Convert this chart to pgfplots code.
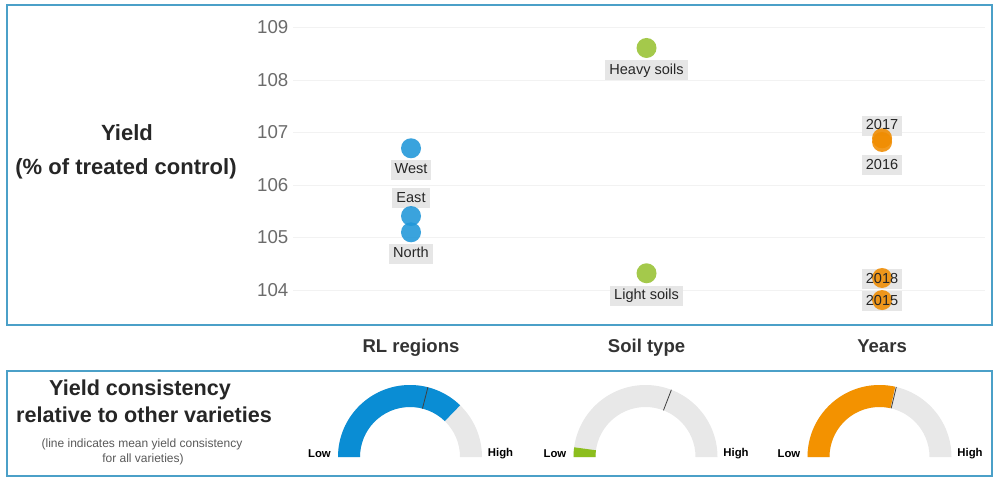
\documentclass[border=0pt]{standalone}
\usepackage{fontspec}
\setmainfont{Liberation Sans}
\usepackage{pgfplots}
\pgfplotsset{compat=1.18}
\usepackage{pgfplotstable}

\definecolor{frame}{HTML}{4BA0C8}
\definecolor{pblue}{HTML}{1F96D8}
\definecolor{pgreen}{HTML}{97C232}
\definecolor{porange}{HTML}{F08C00}
\definecolor{gblue}{HTML}{0A8DD4}
\definecolor{ggreen}{HTML}{8CBE1E}
\definecolor{gorange}{HTML}{F39200}
\definecolor{ggrey}{HTML}{E8E8E8}
\definecolor{lgrey}{HTML}{E6E6E6}
\definecolor{tickgrey}{HTML}{6B6B6B}
\definecolor{darktext}{HTML}{262626}

% points: category position, yield, label, label offset (pt)
\pgfplotstableread[col sep=comma]{
x,y,label,dy
0,106.70,West,-16
0,105.41,East,13.25
0,105.10,North,-16
}\rlregions
\pgfplotstableread[col sep=comma]{
x,y,label,dy
1,108.61,Heavy soils,-16.75
1,104.32,Light soils,-16.75
}\soiltype
\pgfplotstableread[col sep=comma]{
x,y,label,dy
2,106.89,2017,9.5
2,106.82,2016,-17.5
2,104.23,2018,-1
2,103.81,2015,-1
}\years

\pgfplotsset{
  lbl/.style={only marks, mark=*, mark size=0.1pt,
    mark options={draw opacity=0, fill opacity=0},
    nodes near coords, point meta=explicit symbolic,
    visualization depends on={\thisrow{dy} \as \dy},
    nodes near coords style={anchor=center, yshift=\dy pt,
      draw opacity=1, fill opacity=1, text opacity=1,
      font=\fontsize{10.9}{12}\selectfont, inner xsep=3pt, inner ysep=2pt,
      text height=8.5pt, text depth=2.5pt, text=darktext}},
  lblbox/.style={lbl, nodes near coords style={fill=lgrey, text opacity=0}},
  pts/.style={only marks, mark=*, mark size=7.5pt,
    mark options={draw opacity=0, fill=#1, fill opacity=0.88}},
}

% gauge: centre x (px), fill fraction, mean fraction, colour
\newcommand{\gauge}[4]{%
  \fill[ggrey] (axis cs:#1,29) ++(180:54pt)
    arc[start angle=180, end angle=0, radius=54pt] -- ++(180:16.5pt)
    arc[start angle=0, end angle=180, radius=37.5pt] -- cycle;
  \fill[#4] (axis cs:#1,29) ++(180:54pt)
    arc[start angle=180, end angle={180-180*#2}, radius=54pt] -- ++({180-180*#2}:-16.5pt)
    arc[start angle={180-180*#2}, end angle=180, radius=37.5pt] -- cycle;
  \draw[black!75, line width=0.6pt]
    ([shift={({180-180*#3}:37.5pt)}]axis cs:#1,29) -- ([shift={({180-180*#3}:54pt)}]axis cs:#1,29);
  \node[font=\bfseries\fontsize{8.5}{10}\selectfont, text=black] at ([xshift=-67.9pt]axis cs:#1,32) {Low};
  \node[font=\bfseries\fontsize{8.5}{10}\selectfont, text=black] at ([xshift=67.9pt]axis cs:#1,32) {High};
}

\begin{document}
\begin{tikzpicture}
\useasboundingbox (0,0) rectangle (750pt,364.5pt);

% layout axis: one unit = one pixel of the reference
\begin{axis}[at={(0pt,0pt)}, anchor=south west, x=0.75pt, y=0.75pt,
  xmin=0, xmax=1000, ymin=0, ymax=486, hide axis, clip=false]
  \draw[frame, line width=1.5pt] (axis cs:7,481) rectangle (axis cs:992,161);
  \draw[frame, line width=1.5pt] (axis cs:7,115) rectangle (axis cs:992,10);

  \node[font=\bfseries\fontsize{16.5}{18}\selectfont, text=darktext] at (axis cs:127,353) {Yield};
  \node[font=\bfseries\fontsize{16.5}{18}\selectfont, text=darktext] at (axis cs:126,317) {(\% of treated control)};

  \node[font=\bfseries\fontsize{16.2}{18}\selectfont, text=darktext] at (axis cs:140,96) {Yield consistency};
  \node[font=\bfseries\fontsize{16.2}{18}\selectfont, text=darktext] at (axis cs:144,71) {relative to other varieties};
  \node[font=\fontsize{9}{11}\selectfont, text=black!65] at (axis cs:142,42) {(line indicates mean yield consistency};
  \node[font=\fontsize{9}{11}\selectfont, text=black!65] at (axis cs:143,27) {for all varieties)};

  \gauge{410}{0.745}{0.58}{gblue}
  \gauge{645.5}{0.043}{0.617}{ggreen}
  \gauge{879.5}{0.57}{0.575}{gorange}
\end{axis}

% yield scatter
\begin{axis}[at={(219.75pt,124.5pt)}, anchor=south west, scale only axis,
  width=519pt, height=232.5pt,
  xmin=-0.501, xmax=2.437, ymin=103.43, ymax=109.333,
  axis line style={draw=none}, tick style={draw=none},
  ytick={104,105,...,109}, ymajorgrids, grid style={color=black!5, line width=0.6pt},
  xtick={0,1,2}, xticklabels={RL regions,Soil type,Years},
  xticklabel style={anchor=base, yshift=-24.4pt,
    font=\bfseries\fontsize{13.9}{16}\selectfont, text=black!80},
  /pgf/number format/assume math mode=true,
  yticklabel style={font=\fontsize{14}{16}\selectfont, text=tickgrey},
  clip=false]
  \addplot[lblbox] table[x=x, y=y, meta=label] {\rlregions};
  \addplot[lblbox] table[x=x, y=y, meta=label] {\soiltype};
  \addplot[lblbox] table[x=x, y=y, meta=label] {\years};
  \addplot[pts=pblue] table[x=x, y=y] {\rlregions};
  \addplot[pts=pgreen] table[x=x, y=y] {\soiltype};
  \addplot[pts=porange] table[x=x, y=y] {\years};
  \addplot[lbl] table[x=x, y=y, meta=label] {\rlregions};
  \addplot[lbl] table[x=x, y=y, meta=label] {\soiltype};
  \addplot[lbl] table[x=x, y=y, meta=label] {\years};
\end{axis}
\end{tikzpicture}
\end{document}
